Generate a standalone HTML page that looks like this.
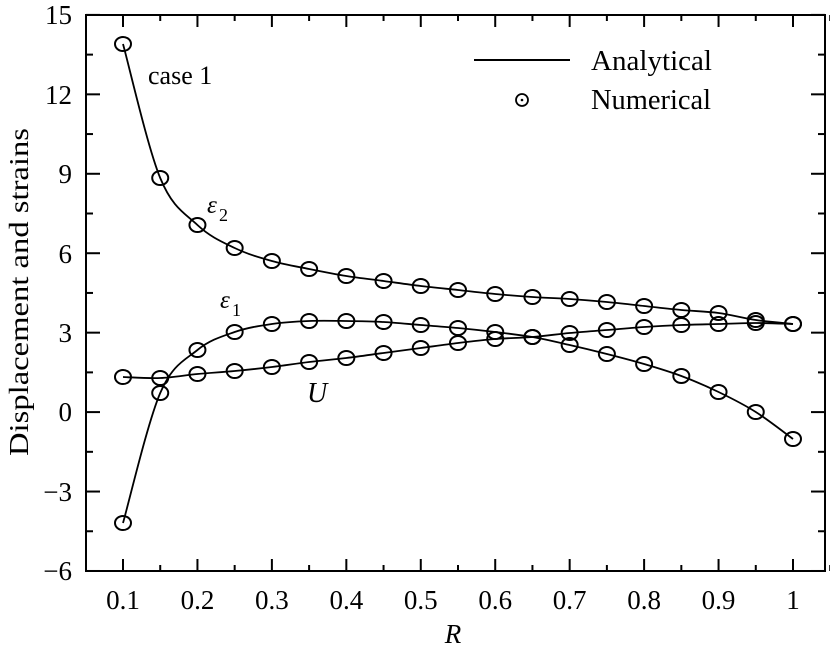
<!DOCTYPE html>
<html><head><meta charset="utf-8"><style>
body{margin:0;background:#fff}
text{font-family:"Liberation Serif",serif;fill:#000}
</style></head><body>
<svg id="s" width="830" height="655" xmlns="http://www.w3.org/2000/svg">
<rect x="86" y="15" width="739" height="556" fill="none" stroke="#000" stroke-width="2"/>
<g id="ticks" stroke="#000" stroke-width="2"></g>
<g id="curves" fill="none" stroke="#000" stroke-width="1.8"></g>
<g id="marks" fill="none" stroke="#000" stroke-width="2"></g>
<g font-size="27" text-anchor="end">
<text x="72" y="24">15</text><text x="72" y="104">12</text><text x="72" y="183">9</text>
<text x="72" y="263">6</text><text x="72" y="342">3</text><text x="72" y="421">0</text>
<text x="72" y="501">−3</text><text x="72" y="580">−6</text>
</g>
<g font-size="27" text-anchor="middle" id="xl"></g>
<text x="453" y="643" font-size="27" font-style="italic" text-anchor="middle">R</text>
<text transform="translate(28,292) rotate(-90)" font-size="27" text-anchor="middle" textLength="328" lengthAdjust="spacingAndGlyphs">Displacement and strains</text>
<text x="148" y="84" font-size="26">case 1</text>
<text x="207" y="213" font-size="25" font-style="italic">ε</text><text x="219" y="221" font-size="18">2</text>
<text x="220" y="308" font-size="25" font-style="italic">ε</text><text x="232" y="316" font-size="18">1</text>
<text x="307" y="402" font-size="28" font-style="italic">U</text>
<line x1="474" y1="60" x2="570" y2="60" stroke="#000" stroke-width="2"/>
<text x="591" y="70" font-size="28" textLength="121" lengthAdjust="spacingAndGlyphs">Analytical</text>
<circle cx="522" cy="100" r="6" fill="none" stroke="#000" stroke-width="1.8"/><circle cx="522" cy="100" r="1.3"/>
<text x="591" y="109" font-size="28" textLength="120" lengthAdjust="spacingAndGlyphs">Numerical</text>
</svg>
<script>
const X=r=>123+(r-0.1)*744.44, Y=v=>412.1-v*26.48;
const ns="http://www.w3.org/2000/svg";
function el(p,t,a){const e=document.createElementNS(ns,t);for(const k in a)e.setAttribute(k,a[k]);document.getElementById(p).appendChild(e);return e;}
for(let i=0;i<=19;i++){const r=0.1+i*0.05,x=X(r),L=i%2==0?12:6;
el('ticks','line',{x1:x,y1:571,x2:x,y2:571-L});el('ticks','line',{x1:x,y1:15,x2:x,y2:15+L});}
for(let i=0;i<=14;i++){const v=-6+i*1.5,y=Y(v),L=i%2==0?14:7;
el('ticks','line',{x1:86,y1:y,x2:86+L,y2:y});el('ticks','line',{x1:825,y1:y,x2:825-L,y2:y});}
for(let i=1;i<=10;i++){const t=el('xl','text',{x:X(i/10),y:609});t.textContent=i==10?'1':'0.'+i;}
const rs=[];for(let i=0;i<19;i++)rs.push(0.1+i*0.05);
const e2=[44,178,225,248,261,269,276,281,286,290,294,297,299,302,306,310,313,320,324];
const e1=[523,393,350,332,324,321,321,322,325,328,332,337,345,354,364,376,392,412,439];
const U=[377,378,374,371,367,362,358,353,348,343,339,337,333,330,327,325,324,323,324];
function path(ys){const p=rs.map((r,i)=>[X(r),ys[i]]);let d='M'+p[0];
for(let i=0;i<p.length-1;i++){const a=p[i-1]||p[i],b=p[i],c=p[i+1],e=p[i+2]||c;
d+=` C${b[0]+(c[0]-a[0])/6},${b[1]+(c[1]-a[1])/6} ${c[0]-(e[0]-b[0])/6},${c[1]-(e[1]-b[1])/6} ${c[0]},${c[1]}`;}
el('curves','path',{d});p.forEach(q=>el('marks','ellipse',{cx:q[0],cy:q[1],rx:8,ry:7}));}
path(e2);path(e1);path(U);
</script>
</body></html>
